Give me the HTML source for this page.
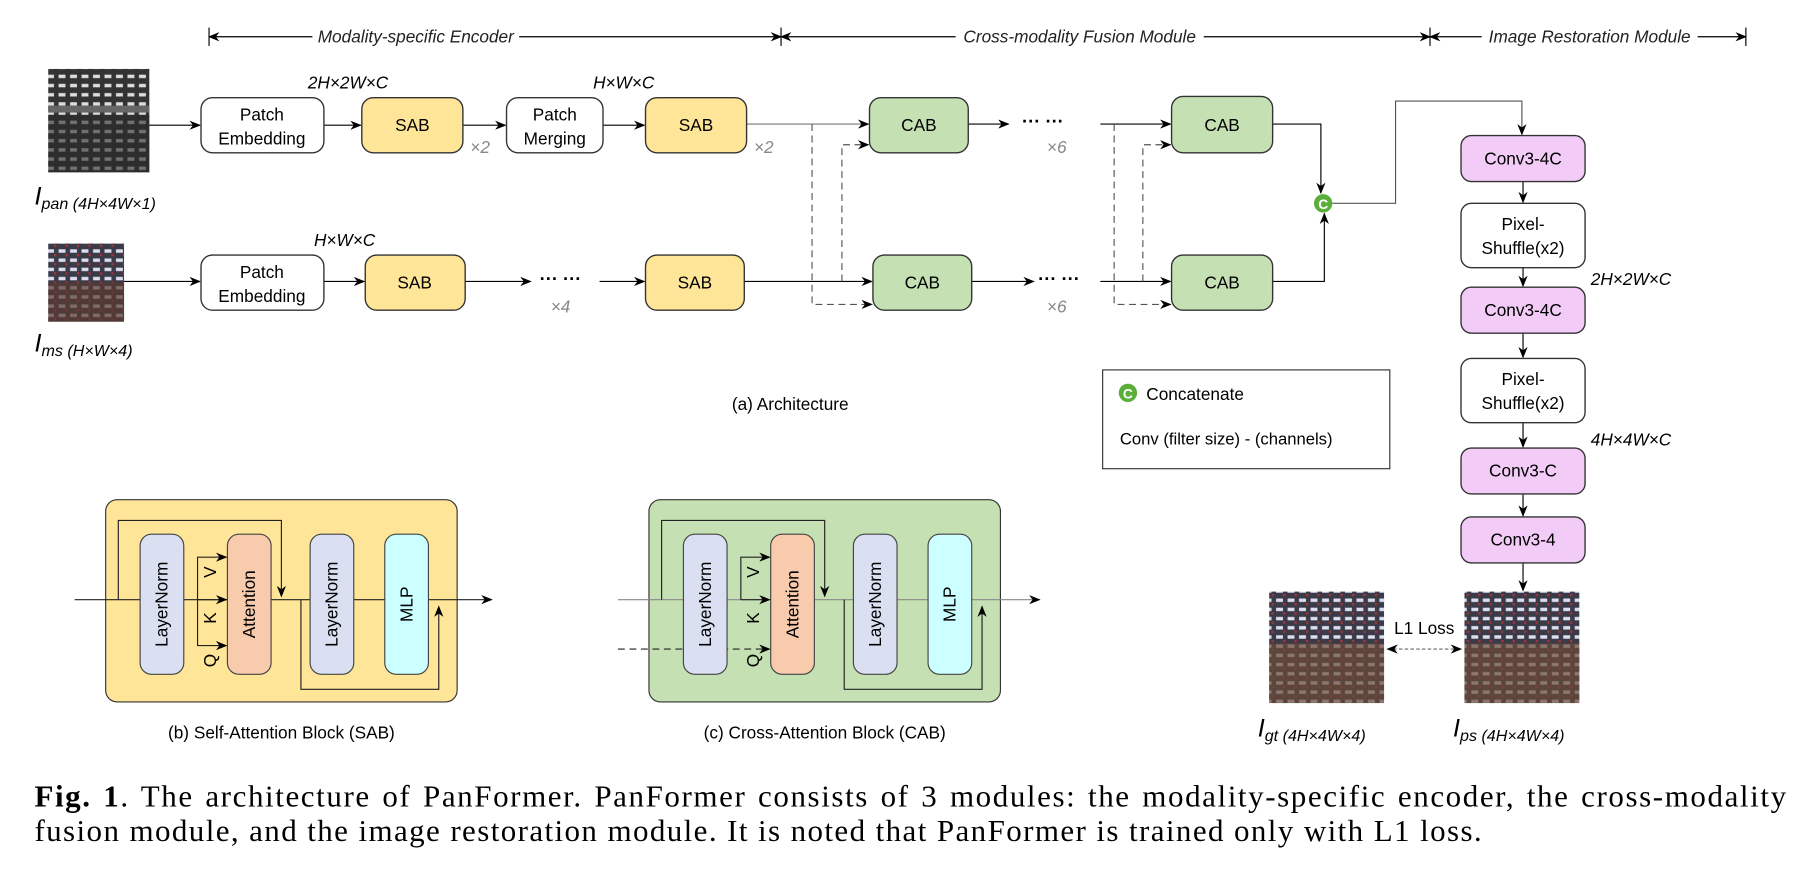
<!DOCTYPE html>
<html><head><meta charset="utf-8"><style>
html,body{margin:0;padding:0;background:#fff;}
svg{display:block}
text{font-family:"Liberation Sans",sans-serif;}
.cap{font-family:"Liberation Serif",serif;font-size:27px;}
</style></head><body>
<svg width="1801" height="888" viewBox="0 0 1568 773" preserveAspectRatio="none" xmlns="http://www.w3.org/2000/svg">
<defs>
<marker id="a" markerWidth="10" markerHeight="8" refX="9" refY="4" orient="auto" markerUnits="userSpaceOnUse"><path d="M0,0 L10,4 L0,8 L3,4 z" fill="#000"/></marker>
<marker id="b" markerWidth="10" markerHeight="8" refX="1" refY="4" orient="auto" markerUnits="userSpaceOnUse"><path d="M10,0 L0,4 L10,8 L7,4 z" fill="#000"/></marker>
<pattern id="pan" width="10" height="8" patternUnits="userSpaceOnUse"><rect width="10" height="8" fill="#333"/><rect x="1" y="1" width="6" height="3" fill="#ddd"/></pattern>
<pattern id="ms" width="10" height="8" patternUnits="userSpaceOnUse"><rect width="10" height="8" fill="#3a3a48"/><rect x="1" y="1" width="6" height="3" fill="#dde"/><rect x="7" y="5" width="2" height="2" fill="#a33"/></pattern>
</defs>
<g stroke="#000" stroke-width="1" fill="none">
<line x1="182" y1="32" x2="272" y2="32" marker-start="url(#b)"/>
<line x1="182" y1="24" x2="182" y2="40"/>
<line x1="452" y1="32" x2="680" y2="32" marker-end="url(#a)"/>
<line x1="680" y1="24" x2="680" y2="40"/>
<line x1="680" y1="32" x2="832" y2="32" marker-start="url(#b)"/>
<line x1="1048" y1="32" x2="1245" y2="32" marker-end="url(#a)"/>
<line x1="1245" y1="24" x2="1245" y2="40"/>
<line x1="1245" y1="32" x2="1290" y2="32" marker-start="url(#b)"/>
<line x1="1478" y1="32" x2="1520" y2="32" marker-end="url(#a)"/>
<line x1="1520" y1="24" x2="1520" y2="40"/>
</g>
<g font-style="italic" font-size="15" fill="#222">
<text x="362" y="37" text-anchor="middle">Modality-specific Encoder</text>
<text x="940" y="37" text-anchor="middle">Cross-modality Fusion Module</text>
<text x="1384" y="37" text-anchor="middle">Image Restoration Module</text>
</g>
<rect x="42" y="60" width="88" height="90" fill="url(#pan)"/>
<rect x="42" y="92" width="88" height="6" fill="#666"/>
<rect x="42" y="100" width="88" height="50" fill="#2a2a2a" opacity="0.6"/>
<rect x="42" y="212" width="66" height="68" fill="url(#ms)"/>
<rect x="42" y="246" width="66" height="34" fill="#5a3a30" opacity="0.7"/>
<text x="30" y="178" font-size="22" font-style="italic">I<tspan font-size="14" dy="4">pan (4H×4W×1)</tspan></text>
<text x="30" y="306" font-size="22" font-style="italic">I<tspan font-size="14" dy="4">ms (H×W×4)</tspan></text>
<g stroke="#000" stroke-width="1" fill="none">
<line x1="130" y1="109" x2="174" y2="109" marker-end="url(#a)"/>
<line x1="282" y1="109" x2="314" y2="109" marker-end="url(#a)"/>
<line x1="403" y1="109" x2="440" y2="109" marker-end="url(#a)"/>
<line x1="525" y1="109" x2="561" y2="109" marker-end="url(#a)"/>
<line x1="650" y1="108" x2="756" y2="108" marker-end="url(#a)" stroke="#777"/>
<line x1="843" y1="108" x2="878" y2="108" marker-end="url(#a)"/>
<line x1="958" y1="108" x2="1019" y2="108" marker-end="url(#a)"/>
<line x1="108" y1="245" x2="174" y2="245" marker-end="url(#a)"/>
<line x1="282" y1="245" x2="317" y2="245" marker-end="url(#a)"/>
<line x1="405" y1="245" x2="462" y2="245" marker-end="url(#a)"/>
<line x1="522" y1="245" x2="561" y2="245" marker-end="url(#a)"/>
<line x1="648" y1="245" x2="759" y2="245" marker-end="url(#a)"/>
<line x1="846" y1="245" x2="900" y2="245" marker-end="url(#a)"/>
<line x1="958" y1="245" x2="1019" y2="245" marker-end="url(#a)"/>
<g stroke-dasharray="6,4" stroke="#555">
<path d="M707,108 V265 H759" marker-end="url(#a)"/>
<path d="M733,245 V126 H756" marker-end="url(#a)"/>
<path d="M970,108 V265 H1019" marker-end="url(#a)"/>
<path d="M995,245 V126 H1019" marker-end="url(#a)"/>
</g>
<path d="M1108,108 H1150 V168" marker-end="url(#a)"/>
<path d="M1108,245 H1153 V186" marker-end="url(#a)"/>
<path d="M1160,177 H1215 V88 H1325 V117" marker-end="url(#a)" stroke="#555"/>
<line x1="1326" y1="158" x2="1326" y2="176" marker-end="url(#a)"/>
<line x1="1326" y1="233" x2="1326" y2="249" marker-end="url(#a)"/>
<line x1="1326" y1="290" x2="1326" y2="311" marker-end="url(#a)"/>
<line x1="1326" y1="368" x2="1326" y2="389" marker-end="url(#a)"/>
<line x1="1326" y1="430" x2="1326" y2="449" marker-end="url(#a)"/>
<line x1="1326" y1="490" x2="1326" y2="514" marker-end="url(#a)"/>
<line x1="1208" y1="565" x2="1272" y2="565" stroke-dasharray="3,2" stroke="#666" marker-start="url(#b)" marker-end="url(#a)"/>
</g>
<g stroke="#333" stroke-width="1.2" font-size="15" text-anchor="middle">
<rect x="175" y="85" width="107" height="48" rx="10" fill="#fff"/>
<rect x="315" y="85" width="88" height="48" rx="10" fill="#FFE597"/>
<rect x="441" y="85" width="84" height="48" rx="10" fill="#fff"/>
<rect x="562" y="85" width="88" height="48" rx="10" fill="#FFE597"/>
<rect x="757" y="85" width="86" height="48" rx="10" fill="#C5E0B3"/>
<rect x="1020" y="84" width="88" height="49" rx="10" fill="#C5E0B3"/>
<rect x="175" y="222" width="107" height="48" rx="10" fill="#fff"/>
<rect x="318" y="222" width="87" height="48" rx="10" fill="#FFE597"/>
<rect x="562" y="222" width="86" height="48" rx="10" fill="#FFE597"/>
<rect x="760" y="222" width="86" height="48" rx="10" fill="#C5E0B3"/>
<rect x="1020" y="222" width="88" height="48" rx="10" fill="#C5E0B3"/>
<rect x="1272" y="118" width="108" height="40" rx="9" fill="#F2CCF7"/>
<rect x="1272" y="177" width="108" height="56" rx="9" fill="#fff"/>
<rect x="1272" y="250" width="108" height="40" rx="9" fill="#F2CCF7"/>
<rect x="1272" y="312" width="108" height="56" rx="9" fill="#fff"/>
<rect x="1272" y="390" width="108" height="40" rx="9" fill="#F2CCF7"/>
<rect x="1272" y="450" width="108" height="40" rx="9" fill="#F2CCF7"/>
</g>
<g font-size="15" text-anchor="middle" fill="#000">
<text x="228" y="105">Patch</text><text x="228" y="126">Embedding</text>
<text x="359" y="114">SAB</text>
<text x="483" y="105">Patch</text><text x="483" y="126">Merging</text>
<text x="606" y="114">SAB</text>
<text x="800" y="114">CAB</text>
<text x="1064" y="114">CAB</text>
<text x="228" y="242">Patch</text><text x="228" y="263">Embedding</text>
<text x="361" y="251">SAB</text>
<text x="605" y="251">SAB</text>
<text x="803" y="251">CAB</text>
<text x="1064" y="251">CAB</text>
<text x="1326" y="143">Conv3-4C</text>
<text x="1326" y="200">Pixel-</text><text x="1326" y="221">Shuffle(x2)</text>
<text x="1326" y="275">Conv3-4C</text>
<text x="1326" y="335">Pixel-</text><text x="1326" y="356">Shuffle(x2)</text>
<text x="1326" y="415">Conv3-C</text>
<text x="1326" y="475">Conv3-4</text>
</g>
<g font-size="15" font-style="italic" fill="#000" text-anchor="middle">
<text x="303" y="77">2H×2W×C</text>
<text x="543" y="77">H×W×C</text>
<text x="300" y="214">H×W×C</text>
<text x="1420" y="248">2H×2W×C</text>
<text x="1420" y="388">4H×4W×C</text>
</g>
<g font-size="15" font-style="italic" fill="#888" text-anchor="middle">
<text x="418" y="133">×2</text><text x="665" y="133">×2</text>
<text x="920" y="133">×6</text><text x="488" y="272">×4</text><text x="920" y="272">×6</text>
</g>
<g font-size="16" font-weight="bold" fill="#000" text-anchor="middle">
<text x="908" y="111">··· ···</text><text x="488" y="248">··· ···</text><text x="922" y="248">··· ···</text>
</g>
<circle cx="1152" cy="177" r="8" fill="#5BAE3A"/>
<text x="1152" y="182" font-size="12" font-weight="bold" fill="#fff" text-anchor="middle">C</text>
<rect x="960" y="322" width="250" height="86" fill="#fff" stroke="#333"/>
<circle cx="982" cy="342" r="8" fill="#5BAE3A"/>
<text x="982" y="347" font-size="12" font-weight="bold" fill="#fff" text-anchor="middle">C</text>
<text x="998" y="348" font-size="15">Concatenate</text>
<text x="975" y="387" font-size="14.5">Conv (filter size) - (channels)</text>
<text x="688" y="357" font-size="15" text-anchor="middle">(a) Architecture</text>
<rect x="1105" y="515" width="100" height="97" fill="url(#ms)"/>
<rect x="1105" y="560" width="100" height="52" fill="#6a4a38" opacity="0.7"/>
<rect x="1275" y="515" width="100" height="97" fill="url(#ms)"/>
<rect x="1275" y="560" width="100" height="52" fill="#6a4a38" opacity="0.7"/>
<text x="1240" y="552" font-size="15" text-anchor="middle">L1 Loss</text>
<text x="1095" y="641" font-size="22" font-style="italic">I<tspan font-size="14" dy="4">gt (4H×4W×4)</tspan></text>
<text x="1265" y="641" font-size="22" font-style="italic">I<tspan font-size="14" dy="4">ps (4H×4W×4)</tspan></text>
<rect x="92" y="435" width="306" height="176" rx="10" fill="#FFE597" stroke="#333"/>
<rect x="565" y="435" width="306" height="176" rx="10" fill="#C5E0B3" stroke="#333"/>
<g stroke="#222" fill="none">
<line x1="65" y1="522" x2="428" y2="522" marker-end="url(#a)"/>
<path d="M103,522 V453 H245 V519" marker-end="url(#a)"/>
<path d="M262,522 V600 H382 V528" marker-end="url(#a)"/>
<path d="M172,522 V485 H197" marker-end="url(#a)"/>
<line x1="172" y1="522" x2="197" y2="522" marker-end="url(#a)"/>
<path d="M172,522 V562 H197" marker-end="url(#a)"/>
<line x1="538" y1="522" x2="905" y2="522" marker-end="url(#a)" stroke="#888"/>
<path d="M576,522 V453 H718 V519" marker-end="url(#a)"/>
<path d="M735,522 V600 H855 V528" marker-end="url(#a)"/>
<path d="M645,522 V485 H670" marker-end="url(#a)"/>
<line x1="645" y1="522" x2="670" y2="522" marker-end="url(#a)"/>
<line x1="538" y1="565" x2="670" y2="565" stroke-dasharray="6,4" marker-end="url(#a)"/>
</g>
<g stroke="#444" stroke-width="1">
<rect x="122" y="465" width="38" height="122" rx="10" fill="#DAE0F2"/>
<rect x="198" y="465" width="38" height="122" rx="10" fill="#F8CBAD"/>
<rect x="270" y="465" width="38" height="122" rx="10" fill="#DAE0F2"/>
<rect x="335" y="465" width="38" height="122" rx="10" fill="#CCFFFF"/>
<rect x="595" y="465" width="38" height="122" rx="10" fill="#DAE0F2"/>
<rect x="671" y="465" width="38" height="122" rx="10" fill="#F8CBAD"/>
<rect x="743" y="465" width="38" height="122" rx="10" fill="#DAE0F2"/>
<rect x="808" y="465" width="38" height="122" rx="10" fill="#CCFFFF"/>
</g>
<g font-size="15" text-anchor="middle" fill="#000">
<text transform="translate(146,526) rotate(-90)">LayerNorm</text>
<text transform="translate(222,526) rotate(-90)">Attention</text>
<text transform="translate(294,526) rotate(-90)">LayerNorm</text>
<text transform="translate(359,526) rotate(-90)">MLP</text>
<text transform="translate(619,526) rotate(-90)">LayerNorm</text>
<text transform="translate(695,526) rotate(-90)">Attention</text>
<text transform="translate(767,526) rotate(-90)">LayerNorm</text>
<text transform="translate(832,526) rotate(-90)">MLP</text>
<text transform="translate(188,498) rotate(-90)">V</text>
<text transform="translate(188,538) rotate(-90)">K</text>
<text transform="translate(188,575) rotate(-90)">Q</text>
<text transform="translate(661,498) rotate(-90)">V</text>
<text transform="translate(661,538) rotate(-90)">K</text>
<text transform="translate(661,575) rotate(-90)">Q</text>
<text x="245" y="643">(b) Self-Attention Block (SAB)</text>
<text x="718" y="643">(c) Cross-Attention Block (CAB)</text>
</g>
<text class="cap" x="30" y="702" textLength="1525" lengthAdjust="spacing" word-spacing="2"><tspan font-weight="bold">Fig. 1</tspan>. The architecture of PanFormer. PanFormer consists of 3 modules: the modality-specific encoder, the cross-modality</text>
<text class="cap" x="30" y="732" textLength="1260" lengthAdjust="spacing">fusion module, and the image restoration module. It is noted that PanFormer is trained only with L1 loss.</text>
</svg>
</body></html>
